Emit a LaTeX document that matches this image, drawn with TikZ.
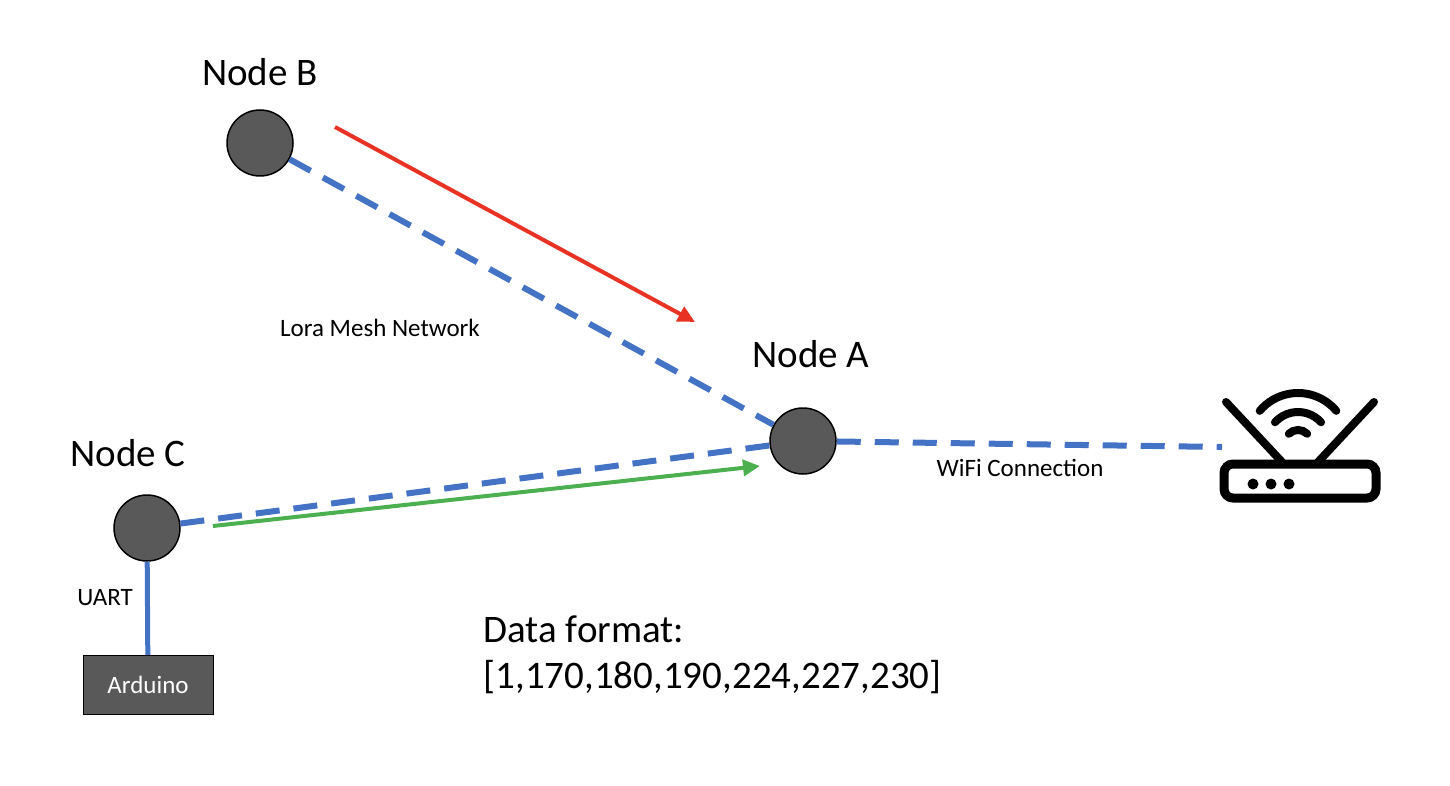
\documentclass[tikz,border=0pt]{standalone}
\usepackage{fontspec}
\setmainfont{Carlito}
\usetikzlibrary{arrows.meta}
\definecolor{bl}{RGB}{68,114,196}
\definecolor{rd}{RGB}{232,50,35}
\definecolor{gr}{RGB}{76,175,80}
\definecolor{nd}{RGB}{89,89,89}
\begin{document}
\begin{tikzpicture}[x=1pt,y=-1pt,
  mesh/.style={circle,draw=black,line width=1.5pt,fill=nd,minimum size=66pt,inner sep=0},
  lbl/.style={font=\fontsize{39}{44}\selectfont},
  sml/.style={font=\fontsize{25}{30}\selectfont},
  bdash/.style={bl,line width=6pt,dash pattern=on 24pt off 14pt},
  arr/.style={line width=4pt,-{Triangle[length=17pt,width=16pt]}}]
\useasboundingbox (0,0) rectangle (1450,786);
\node[mesh] (B) at (260,143) {};
\node[mesh] (A) at (803,441) {};
\node[mesh] (C) at (147,528) {};
\node[draw=black,line width=1pt,fill=nd,minimum width=130pt,minimum height=59pt,text=white,font=\fontsize{25}{30}\selectfont] (ard) at (148,685) {Arduino};
\coordinate (R) at (1222,447);
\node[lbl] (tB) at (260,72) {Node B};
\node[lbl] (tA) at (811,354) {Node A};
\node[lbl] (tC) at (128,453) {Node C};
\node[sml] (lora) at (380,328) {Lora Mesh Network};
\node[sml] (wifi) at (1020,468) {WiFi Connection};
\node[sml] (uart) at (105,598) {UART};
\node[anchor=north west,align=left,font=\fontsize{39}{46}\selectfont] (data) at (480,612) {Data format:\\{}[1,170,180,190,224,227,230]};
\draw[bdash] (B) -- (A);
\draw[bdash] (C) -- (A);
\draw[bdash] (A) -- (R);
\draw[bl,line width=5pt] (C) -- (ard);
\coordinate (r1) at (335,127); \coordinate (r2) at (695,322);
\coordinate (g1) at (213,526); \coordinate (g2) at (760,466);
\draw[arr,rd] (r1) -- (r2);
\draw[arr,gr] (g1) -- (g2);
% router
\draw[line width=9pt,rounded corners=9pt] (1224,464) rectangle (1376,498);
\draw[line width=8pt,line cap=round] (1226,402) -- (1282,462);
\draw[line width=8pt,line cap=round] (1374,402) -- (1318,462);
\foreach \x in {1253,1271,1289} \fill (\x,484) circle (5.5pt);
\foreach \r/\a in {13/-45,31/-42,50/-40} \draw[line width=8pt,line cap=round] (1298,443) ++(\a:\r) arc[start angle=\a,end angle=-180-\a,radius=\r];
\end{tikzpicture}
\end{document}
